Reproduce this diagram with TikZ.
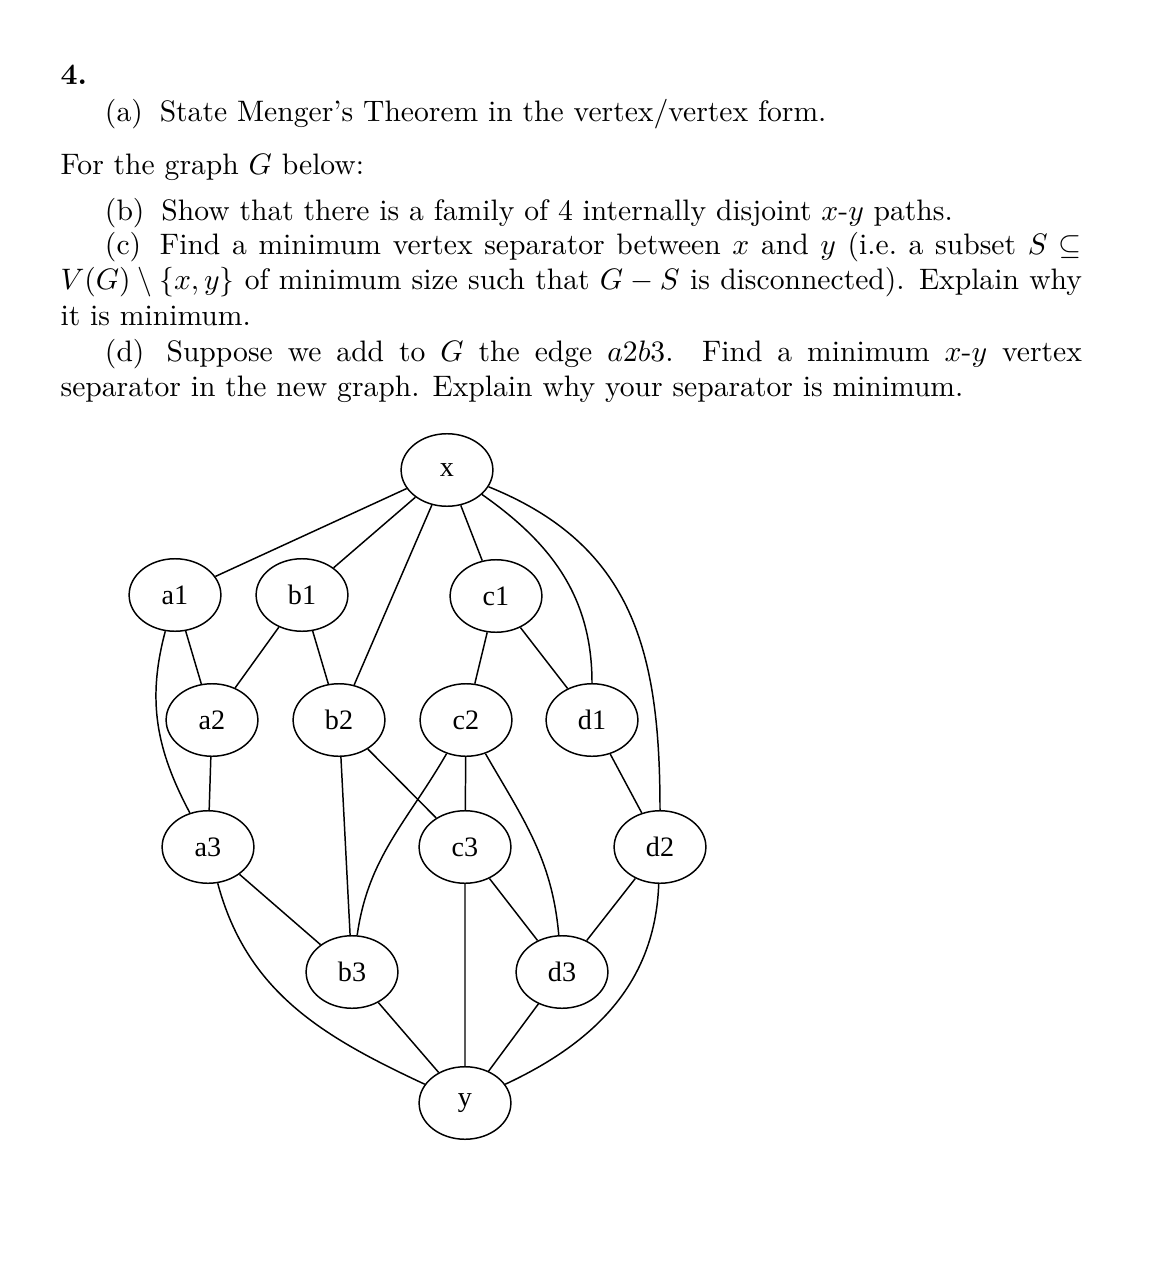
\documentclass[tikz,border=0pt]{standalone}
\usepackage{amsmath,amssymb}
\usepackage{fontspec}
\newfontfamily\labelfont{Liberation Serif}
\usetikzlibrary{shapes.geometric}

\begin{document}
\begin{tikzpicture}[x=0.3378pt, y=0.3378pt,
    vertex/.style={ellipse, draw, line width=0.5pt, minimum width=31pt,
      minimum height=24.5pt, inner sep=0pt,
      font=\labelfont\fontsize{9.5}{11}\selectfont},
    edge/.style={line width=0.5pt},
    para/.style={anchor=north west, inner sep=0pt, text width=345pt, align=justify,
      execute at begin node={\hyphenpenalty=10000}}]
  \useasboundingbox (0,0) rectangle (1164,-1270);

  \node[para] (head) at (60,-59) {\strut\textbf{4.}};
  \node[para] (parta) at (60,-96) {\strut\hspace*{15pt}(a)\hspace{2.4pt} State Menger's Theorem in the vertex/vertex form.};
  \node[para] (intro) at (60,-149) {\strut For the graph $G$ below:};
  \node[para] (partb) at (60,-195) {\strut\hspace*{15pt}(b)\hspace{2.4pt} Show that there is a family of 4 internally disjoint $x$-$y$ paths.};
  \node[para] (partc) at (60,-229) {\strut\hspace*{15pt}(c)\hspace{2.4pt} Find a minimum vertex separator between $x$ and $y$ (i.e.\ a subset $S\subseteq V(G)\setminus\{x,y\}$ of minimum size such that $G-S$ is disconnected). Explain why it is minimum.};
  \node[para] (partd) at (60,-336) {\strut\hspace*{15pt}(d)\hspace{2.4pt} Suppose we add to $G$ the edge $a2b3$. Find a minimum $x$-$y$ vertex separator in the new graph. Explain why your separator is minimum.};

  \node[vertex] (x) at (447,-470) {x};
  \node[vertex] (a1) at (175,-595) {a1};
  \node[vertex] (b1) at (302,-595) {b1};
  \node[vertex] (c1) at (496,-596) {c1};
  \node[vertex] (a2) at (212,-720) {a2};
  \node[vertex] (b2) at (339,-720) {b2};
  \node[vertex] (c2) at (466,-720) {c2};
  \node[vertex] (d1) at (592,-720) {d1};
  \node[vertex] (a3) at (208,-847) {a3};
  \node[vertex] (c3) at (465,-847) {c3};
  \node[vertex] (d2) at (660,-847) {d2};
  \node[vertex] (b3) at (352,-972) {b3};
  \node[vertex] (d3) at (562,-972) {d3};
  \node[vertex] (y) at (465,-1103) {y};

  \draw[edge] (x) -- (a1) (x) -- (b1) (x) -- (b2) (x) -- (c1);
  \draw[edge] (x) to[out=-35,in=90] (d1);
  \draw[edge] (x) to[out=-22,in=90,looseness=1.1] (d2);
  \draw[edge] (a1) -- (a2) (b1) -- (a2) (b1) -- (b2) (c1) -- (c2) (c1) -- (d1);
  \draw[edge] (a1) to[out=-105,in=118] (a3);
  \draw[edge] (a2) -- (a3) (b2) -- (b3) (b2) -- (c3) (c2) -- (c3) (d1) -- (d2);
  \draw[edge] (c2) to[out=-120,in=82] (b3);
  \draw[edge] (c2) to[out=-60,in=95] (d3);
  \draw[edge] (a3) -- (b3) (c3) -- (y) (c3) -- (d3) (d2) -- (d3) (b3) -- (y) (d3) -- (y);
  \draw[edge] (a3) to[out=-75,in=155] (y);
  \draw[edge] (d2) to[out=-92,in=25] (y);
\end{tikzpicture}
\end{document}
